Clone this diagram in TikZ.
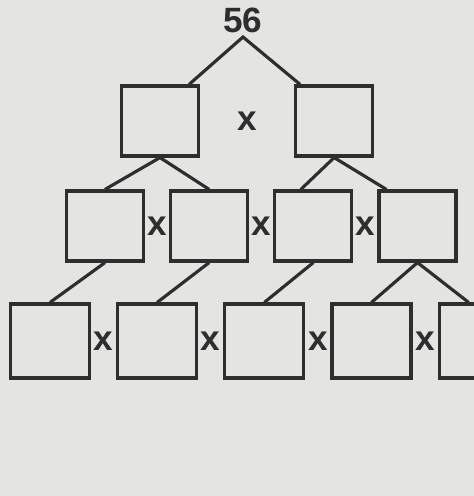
\documentclass[tikz,border=0pt]{standalone}
\usepackage{fontspec}
\setmainfont{Liberation Sans}
\usetikzlibrary{positioning,calc}
\definecolor{paper}{HTML}{E4E4E2}
\definecolor{ink}{HTML}{2E2E2E}
\tikzset{
	blank/.style={draw=ink,line width=1.8pt,minimum width=1.54cm,minimum height=1.40cm,inner sep=0pt},
	tallblank/.style={blank,minimum width=1.58cm,minimum height=1.48cm},
	times/.style={text=ink,font=\bfseries\fontsize{20}{20}\selectfont,inner sep=0pt},
	branch/.style={draw=ink,line width=1.8pt}
}
\begin{document}
\begin{tikzpicture}
	\fill[paper] (0,0) rectangle (9.48,-9.92);
	\useasboundingbox (0,0) rectangle (9.48,-9.92);
	\node[times] (n56) at (4.86,-0.40) {56};
	\coordinate (apex) at (4.86,-0.74);
	\node[blank] (l1a) at (3.20,-2.42) {};
	\node[blank,right=1.88cm of l1a] (l1b) {};
	\node[blank] (l2a) at (2.10,-4.52) {};
	\node[blank,right=0.48cm of l2a] (l2b) {};
	\node[blank,right=0.48cm of l2b] (l2c) {};
	\node[blank,right=0.48cm of l2c] (l2d) {};
	\node[tallblank] (l3a) at (1.00,-6.82) {};
	\node[tallblank,right=0.50cm of l3a] (l3b) {};
	\node[tallblank,right=0.50cm of l3b] (l3c) {};
	\node[tallblank,right=0.50cm of l3c] (l3d) {};
	\node[tallblank,right=0.50cm of l3d] (l3e) {};
	\node[times] (x1) at ($(l1a)!.5!(l1b)$) {x};
	\node[times] (x2) at ($(l2a)!.5!(l2b)$) {x};
	\node[times] (x3) at ($(l2b)!.5!(l2c)$) {x};
	\node[times] (x4) at ($(l2c)!.5!(l2d)$) {x};
	\node[times] (x5) at ($(l3a)!.5!(l3b)$) {x};
	\node[times] (x6) at ($(l3b)!.5!(l3c)$) {x};
	\node[times] (x7) at ($(l3c)!.5!(l3d)$) {x};
	\node[times] (x8) at ($(l3d)!.5!(l3e)$) {x};
	\draw[branch] ([xshift=-0.22cm]l1a.north east) -- (apex) -- ([xshift=0.12cm]l1b.north west);
	\draw[branch] (l2a.north) -- (l1a.south) -- (l2b.north);
	\draw[branch] ([xshift=-0.25cm]l2c.north) -- (l1b.south) -- ([xshift=0.18cm]l2d.north west);
	\draw[branch] (l2a.south) -- (l3a.north);
	\draw[branch] (l2b.south) -- (l3b.north);
	\draw[branch] (l2c.south) -- (l3c.north);
	\draw[branch] (l3d.north) -- (l2d.south) -- ([xshift=-0.2cm]l3e.north);
\end{tikzpicture}
\end{document}
